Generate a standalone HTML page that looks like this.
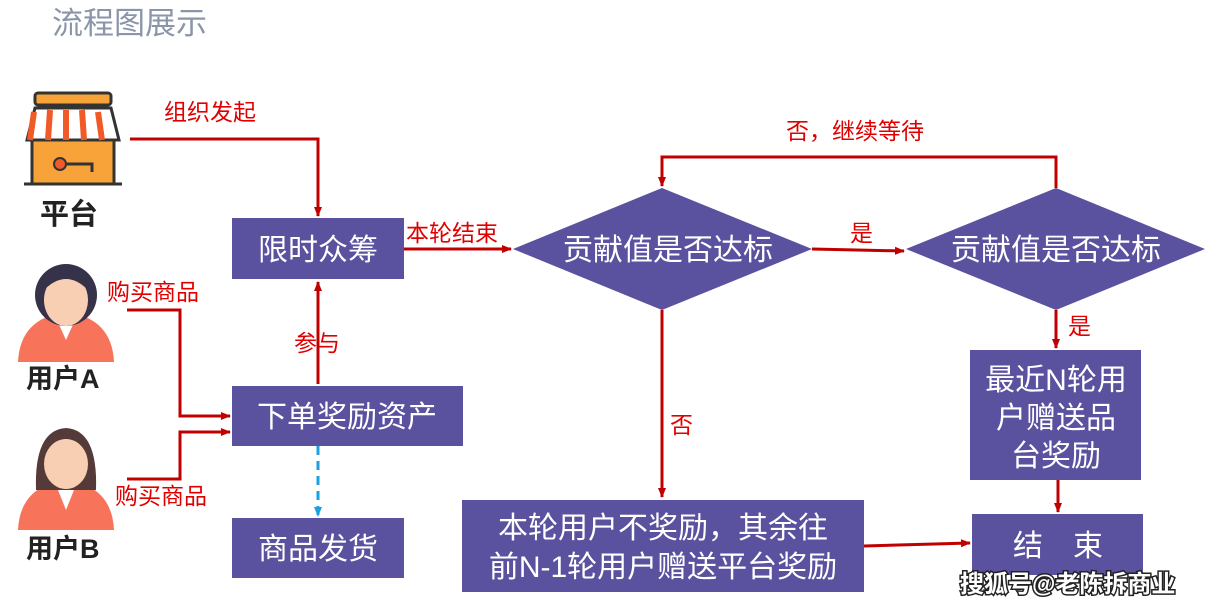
<!DOCTYPE html>
<html><head><meta charset="utf-8"><style>
body{margin:0;background:#fff;}
svg text{font-family:"Liberation Sans","Noto Sans CJK SC",sans-serif;}
</style></head><body>
<svg width="1206" height="610" viewBox="0 0 1206 610" xmlns="http://www.w3.org/2000/svg">
<defs>
<marker id="ar" markerWidth="10" markerHeight="10" refX="9" refY="5" orient="auto" markerUnits="userSpaceOnUse"><path d="M0,1 L10,5 L0,9 z" fill="#c00000"/></marker>
<marker id="ab" markerWidth="10" markerHeight="10" refX="9" refY="5" orient="auto" markerUnits="userSpaceOnUse"><path d="M0,1 L10,5 L0,9 z" fill="#1ea0e0"/></marker>
</defs>
<text x="52" y="34" font-size="31" fill="#8a96a8">流程图展示</text>

<rect x="35" y="93" width="76" height="12" rx="3" fill="#f7a33a" stroke="#333" stroke-width="3"/>
<rect x="32" y="140" width="82" height="44" fill="#f7a33a" stroke="#333" stroke-width="3"/>
<path d="M27,140 L35,108 L111,108 L119,140 Z" fill="#fff" stroke="#333" stroke-width="3"/>
<path d="M34,112 L30,140 M50,110 L48,140 M66,110 L66,140 M82,110 L84,140 M98,112 L102,140" stroke="#f05a28" stroke-width="6"/>
<circle cx="60" cy="164" r="6" fill="#f05a28" stroke="#333" stroke-width="2"/>
<path d="M66,164 H92 V172" stroke="#333" stroke-width="3" fill="none"/>
<line x1="24" y1="184" x2="122" y2="184" stroke="#333" stroke-width="3"/>
<text x="40" y="224" font-size="29" font-weight="bold" fill="#222">平台</text>

<path d="M18,362 Q20,318 66,312 Q112,318 114,362 Z" fill="#f7735a"/>
<path d="M56,318 L66,340 L76,318 Z" fill="#fff"/>
<circle cx="66" cy="295" r="31" fill="#35324a"/>
<ellipse cx="66" cy="300" rx="22" ry="26" fill="#f9cfb3"/>
<path d="M44,290 Q66,268 88,290 L88,280 Q66,262 44,280 Z" fill="#35324a"/>
<text x="26" y="388" font-size="27" font-weight="bold" fill="#222">用户A</text>
<path d="M18,530 Q20,486 66,480 Q112,486 114,530 Z" fill="#f7735a"/>
<path d="M56,485 L66,510 L76,485 Z" fill="#fff"/>
<path d="M36,490 Q34,430 66,428 Q98,430 96,490 Z" fill="#553a3a"/>
<ellipse cx="66" cy="464" rx="22" ry="25" fill="#f9cfb3"/>
<path d="M44,458 Q50,438 66,438 Q84,438 88,458 L88,448 Q66,425 44,448 Z" fill="#553a3a"/>
<text x="26" y="558" font-size="27" font-weight="bold" fill="#222">用户B</text>

<g fill="#5a519f">
<rect x="232" y="218" width="172" height="61"/>
<rect x="232" y="386" width="231" height="60"/>
<rect x="232" y="518" width="172" height="60"/>
<polygon points="513,249 662,188 812,249 662,310"/>
<polygon points="906,249 1056,188 1205,249 1056,310"/>
<rect x="970" y="350" width="171" height="130"/>
<rect x="972" y="514" width="171" height="61"/>
<rect x="462" y="500" width="402" height="92"/>
</g>
<g fill="#fff" font-size="30" text-anchor="middle">
<text x="318" y="260">限时众筹</text>
<text x="347" y="427">下单奖励资产</text>
<text x="318" y="559">商品发货</text>
<text x="668" y="260">贡献值是否达标</text>
<text x="1056" y="260">贡献值是否达标</text>
<text x="1056" y="390">最近N轮用</text>
<text x="1056" y="428">户赠送品</text>
<text x="1056" y="466">台奖励</text>
<text x="1058" y="556">结　束</text>
<text x="663" y="538">本轮用户不奖励，其余往</text>
<text x="663" y="577">前N-1轮用户赠送平台奖励</text>
</g>

<g stroke="#c00000" stroke-width="3" fill="none">
<path d="M130,139 H318 V216" marker-end="url(#ar)"/>
<path d="M127,310 H180 V416 H230" marker-end="url(#ar)"/>
<path d="M127,479 H180 V432 H230" marker-end="url(#ar)"/>
<path d="M318,384 V282" marker-end="url(#ar)"/>
<path d="M404,249 H511" marker-end="url(#ar)"/>
<path d="M812,249 L904,251" marker-end="url(#ar)"/>
<path d="M1056,188 V157 H662 V186" marker-end="url(#ar)"/>
<path d="M662,310 V497" marker-end="url(#ar)"/>
<path d="M1056,310 V348" marker-end="url(#ar)"/>
<path d="M1058,480 V512" marker-end="url(#ar)"/>
<path d="M864,546 L970,543" marker-end="url(#ar)"/>
</g>
<path d="M318,446 V516" stroke="#1ea0e0" stroke-width="3" stroke-dasharray="9,6" fill="none" marker-end="url(#ab)"/>

<g fill="#e00000" font-size="23">
<text x="164" y="120">组织发起</text>
<text x="107" y="300">购买商品</text>
<text x="115" y="504">购买商品</text>
<text x="294" y="351">参与</text>
<text x="406" y="241">本轮结束</text>
<text x="786" y="139">否，继续等待</text>
<text x="850" y="241">是</text>
<text x="1068" y="334">是</text>
<text x="670" y="433">否</text>
</g>
<text x="960" y="592" font-size="24" font-weight="bold" fill="#fff" stroke="#222" stroke-width="3" paint-order="stroke">搜狐号@老陈拆商业</text>
</svg>
</body></html>
